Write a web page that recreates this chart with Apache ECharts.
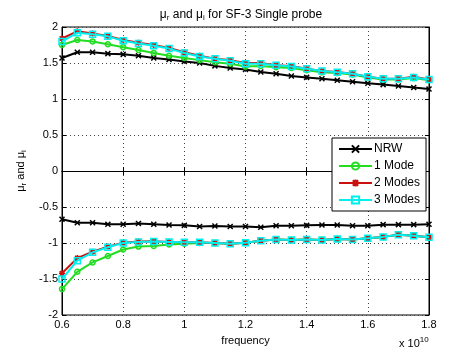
<!DOCTYPE html>
<html>
<head>
<meta charset="utf-8">
<script src="https://cdn.jsdelivr.net/npm/echarts@6/dist/echarts.min.js"></script>
<style>
  html, body { margin: 0; padding: 0; background: #fff; }
  #main { width: 474px; height: 354px; }
</style>
</head>
<body>
<div id="main"></div>
<script>
// frequency in units of 1e10 Hz
var freq = [0.6, 0.65, 0.7, 0.75, 0.8, 0.85, 0.9, 0.95, 1.0, 1.05, 1.1, 1.15, 1.2,
  1.25, 1.3, 1.35, 1.4, 1.45, 1.5, 1.55, 1.6, 1.65, 1.7, 1.75, 1.8];

// real part
var nrwReal = [1.57, 1.65, 1.65, 1.63, 1.62, 1.60, 1.57, 1.55, 1.52, 1.50, 1.46, 1.43, 1.41,
  1.375, 1.35, 1.32, 1.30, 1.28, 1.26, 1.24, 1.22, 1.20, 1.18, 1.16, 1.14];
var mode1Real = [1.75, 1.82, 1.80, 1.76, 1.72, 1.68, 1.64, 1.60, 1.57, 1.54, 1.51, 1.49, 1.45,
  1.46, 1.44, 1.43, 1.40, 1.37, 1.36, 1.34, 1.30, 1.27, 1.27, 1.29, 1.26];
var mode2Real = [1.84, 1.94, 1.91, 1.875, 1.82, 1.78, 1.75, 1.71, 1.65, 1.60, 1.56, 1.54, 1.50,
  1.50, 1.47, 1.46, 1.42, 1.39, 1.375, 1.35, 1.31, 1.28, 1.28, 1.31, 1.27];
var mode3Real = [1.80, 1.92, 1.90, 1.87, 1.81, 1.77, 1.74, 1.70, 1.64, 1.59, 1.56, 1.53, 1.49,
  1.49, 1.47, 1.45, 1.42, 1.39, 1.37, 1.35, 1.31, 1.28, 1.28, 1.30, 1.27];

// imaginary part
var nrwImag = [-0.67, -0.72, -0.72, -0.74, -0.74, -0.73, -0.74, -0.75, -0.755, -0.77, -0.765, -0.77, -0.77,
  -0.78, -0.76, -0.76, -0.755, -0.75, -0.75, -0.76, -0.76, -0.745, -0.745, -0.745, -0.74];
var mode1Imag = [-1.64, -1.40, -1.27, -1.18, -1.09, -1.05, -1.04, -1.02, -1.01, -1.0, -1.0, -1.01, -0.995,
  -0.97, -0.95, -0.96, -0.95, -0.96, -0.945, -0.95, -0.935, -0.915, -0.885, -0.9, -0.92];
var mode2Imag = [-1.42, -1.21, -1.12, -1.05, -0.995, -0.98, -0.975, -0.985, -0.99, -0.99, -1.0, -1.01, -0.995,
  -0.97, -0.95, -0.96, -0.95, -0.96, -0.945, -0.95, -0.935, -0.915, -0.885, -0.9, -0.92];
var mode3Imag = [-1.50, -1.245, -1.13, -1.06, -1.0, -0.985, -0.98, -0.985, -0.99, -0.99, -1.0, -1.01, -0.995,
  -0.97, -0.95, -0.96, -0.95, -0.96, -0.945, -0.95, -0.935, -0.915, -0.885, -0.9, -0.92];

var xTicks = [0.6, 0.8, 1, 1.2, 1.4, 1.6, 1.8];

var font = "Liberation Sans, Arial, sans-serif";

var xSymbol = "path://M-3,-3L3,3M-3,3L3,-3";
var starSymbol = "path://M0,-4L0,4M-4,0L4,0M-3,-3L3,3M-3,3L3,-3";

function pairs(ys) {
  return freq.map(function (f, i) { return [f, ys[i]]; });
}

function mkSeries(name, ys, color, symbol, size, fill, z) {
  return {
    name: name,
    type: "line",
    data: pairs(ys),
    symbol: symbol,
    symbolSize: size,
    showAllSymbol: true,
    z: z,
    lineStyle: { color: color, width: 2 },
    itemStyle: { color: fill, borderColor: color, borderWidth: 1.5 },
    emphasis: { disabled: true },
    animation: false
  };
}

var colors = { nrw: "#000000", m1: "#22dd22", m2: "#cc1010", m3: "#00f0f0" };

var series = [];
[[nrwReal, nrwImag, "NRW", colors.nrw, xSymbol, 5, "#000000", 2],
 [mode1Real, mode1Imag, "1 Mode", colors.m1, "circle", 5, "rgba(0,0,0,0)", 3],
 [mode2Real, mode2Imag, "2 Modes", colors.m2, starSymbol, 6, "#cc1010", 4],
 [mode3Real, mode3Imag, "3 Modes", colors.m3, "rect", 6, "rgba(0,0,0,0)", 5]
].forEach(function (s) {
  series.push(mkSeries(s[2], s[0], s[3], s[4], s[5], s[6], s[7]));
  series.push(mkSeries(s[2], s[1], s[3], s[4], s[5], s[6], s[7]));
});

var myChart = echarts.init(document.getElementById("main"));

var gridLine = { show: true, lineStyle: { type: [1, 3], color: "#444", width: 1 } };

var option = {
  backgroundColor: "#ffffff",
  animation: false,
  title: {
    text: "μ{s|r} and μ{s|i} for SF-3 Single probe",
    left: 236,
    textAlign: "center",
    top: 3,
    textStyle: {
      fontFamily: font, fontSize: 12, fontWeight: "normal", color: "#000",
      rich: { s: { fontFamily: font, fontSize: 8, padding: [6, 0, 0, 0], color: "#000" } }
    }
  },
  legend: {
    orient: "vertical",
    left: 332,
    top: 138,
    width: 93,
    padding: [5, 6, 5, 6],
    itemGap: 5,
    itemWidth: 33,
    itemHeight: 9,
    backgroundColor: "#fff",
    borderColor: "#000",
    borderWidth: 1,
    borderRadius: 0,
    data: ["NRW", "1 Mode", "2 Modes", "3 Modes"],
    textStyle: { fontFamily: font, fontSize: 12, color: "#000", padding: [0, 0, 0, -3] }
  },
  grid: { left: 62, right: 45, top: 27, bottom: 39, show: true, borderColor: "#000", borderWidth: 1, backgroundColor: "#fff" },
  xAxis: [{
    type: "value",
    min: 0.6, max: 1.8, interval: 0.2,
    name: "frequency",
    nameLocation: "middle",
    nameGap: 20,
    nameTextStyle: { fontFamily: font, fontSize: 11, color: "#000" },
    axisLine: { show: true, lineStyle: { color: "#000" } },
    axisTick: { show: true, inside: true, length: 4, lineStyle: { color: "#000" } },
    axisLabel: {
      fontFamily: font, fontSize: 11, color: "#000", margin: 4,
      formatter: function (v) {
        var best = xTicks.reduce(function (a, b) { return Math.abs(b - v) < Math.abs(a - v) ? b : a; });
        return String(best);
      }
    },
    splitLine: gridLine
  }, {
    type: "value", position: "top",
    min: 0.6, max: 1.8, interval: 0.2,
    axisLine: { show: true, lineStyle: { color: "#000" } },
    axisTick: { show: true, inside: true, length: 4, lineStyle: { color: "#000" } },
    axisLabel: { show: false },
    splitLine: { show: false }
  }],
  yAxis: [{
    type: "value",
    min: -2, max: 2, interval: 0.5,
    name: "μ{s|r} and μ{s|i}",
    nameLocation: "middle",
    nameGap: 33,
    nameTextStyle: {
      fontFamily: font, fontSize: 11, color: "#000",
      rich: { s: { fontFamily: font, fontSize: 8, padding: [6, 0, 0, 0], color: "#000" } }
    },
    axisLine: { show: true, lineStyle: { color: "#000" } },
    axisTick: { show: true, inside: true, length: 4, lineStyle: { color: "#000" } },
    axisLabel: { fontFamily: font, fontSize: 11, color: "#000", margin: 4 },
    splitLine: gridLine
  }, {
    type: "value", position: "right",
    min: -2, max: 2, interval: 0.5,
    axisLine: { show: true, lineStyle: { color: "#000" } },
    axisTick: { show: true, inside: true, length: 4, lineStyle: { color: "#000" } },
    axisLabel: { show: false },
    splitLine: { show: false }
  }],
  graphic: [{
    type: "text",
    left: 399,
    top: 336,
    style: {
      text: "x 10{e|10}",
      font: "11px " + font,
      fill: "#000",
      rich: { e: { fontFamily: font, fontSize: 8, padding: [0, 0, 7, 0], fill: "#000" } }
    }
  }],
  series: series
};

myChart.setOption(option);
</script>
</body>
</html>
